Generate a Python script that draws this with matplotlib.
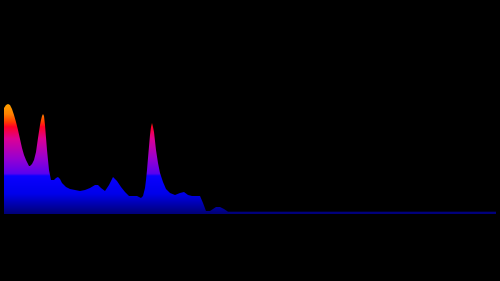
import matplotlib
matplotlib.use("Agg")
import matplotlib.pyplot as plt
import numpy as np
from matplotlib.colors import LinearSegmentedColormap
from matplotlib.patches import Polygon

# spectrum bins (horizontal position) and levels (height above floor)
bins = [0, 2, 4, 6, 8, 10, 12, 14, 16, 18, 20, 22, 24, 25, 26, 28, 30, 32, 34,
        36, 37, 38, 39, 40, 41, 43, 45, 47, 50, 52, 54, 56, 58, 62, 66, 71, 76,
        81, 86, 91, 94, 97, 101, 105, 109, 113, 117, 121, 125, 129, 133, 137,
        139, 141, 142, 143, 144, 146, 147, 148, 149, 150, 152, 154, 156, 159,
        162, 166, 171, 176, 180, 184, 188, 193, 196, 199, 202, 206, 209, 212,
        216, 220, 224, 256, 296, 396, 492]
levels = [106, 109, 110, 109, 105, 99, 92, 84, 75, 66, 59, 54, 50, 48, 48, 50,
          54, 62, 76, 89, 94, 98, 100, 98, 89, 64, 44, 34, 34, 36, 37, 35, 31,
          27, 25, 24, 23, 24, 26, 29, 29, 26, 23, 29, 37, 33, 27, 22, 18, 18,
          18, 16, 18, 26, 34, 44, 56, 79, 87, 91, 87, 82, 64, 51, 41, 32, 25,
          21, 19, 21, 22, 19, 18, 18, 18, 11, 3, 3, 5, 7, 7, 5, 2.3, 2.3, 2.3,
          2.3, 2.3]

# colour stops: (height, rgb)
stop_heights = [0, 20, 38, 40, 55, 75, 87, 92, 100, 112]
stop_colors = ["#000078", "#0000eb", "#0a00ff", "#5a00f0", "#9600d2",
               "#dc0096", "#ff0028", "#ff3c00", "#ff8200", "#ffa800"]

top = 214
fig = plt.figure(figsize=(5, 2.81), dpi=100, facecolor="black")
ax = fig.add_axes([4 / 500, (281 - 214) / 281, 492 / 500, 214 / 281])
ax.set_facecolor("black")
ax.set_xlim(0, 492)
ax.set_ylim(0, top)
ax.axis("off")

x = np.asarray(bins, dtype=float)
h = np.asarray(levels, dtype=float)
verts = np.column_stack([np.r_[x[0], x, x[-1]], np.r_[0, h, 0]])
shape = Polygon(verts, closed=True, facecolor="none", edgecolor="none")
ax.add_patch(shape)

cmap = LinearSegmentedColormap.from_list(
    "spec", [(s / top, c) for s, c in zip(stop_heights, stop_colors)] + [(1.0, stop_colors[-1])]
)
grad = np.linspace(0, 1, 512).reshape(-1, 1)
im = ax.imshow(grad, extent=[0, 492, 0, top], origin="lower", aspect="auto",
               cmap=cmap, vmin=0, vmax=1, interpolation="bilinear")
im.set_clip_path(shape)

fig.savefig("out.png", dpi=100, facecolor="black")
